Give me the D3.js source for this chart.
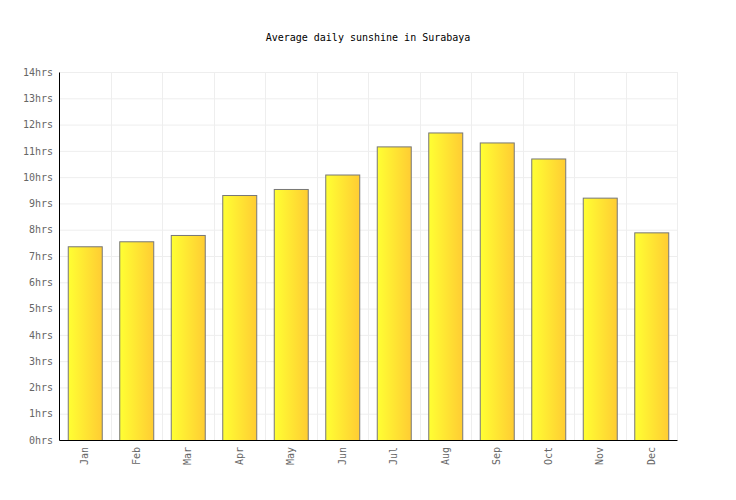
<!DOCTYPE html>
<html lang="en">
<head>
    <meta charset="UTF-8">
    <title>Average daily sunshine in Surabaya</title>
    <script src="https://d3js.org/d3.v7.min.js"></script>
    <style>
        body { margin: 0; background: #fff; }
        text { font-family: "DejaVu Sans Mono", monospace; font-size: 10px; }
    </style>
</head>
<body>
    <svg id="chart" width="736" height="500"></svg>

    <script>
        // Data
        const months = ["Jan", "Feb", "Mar", "Apr", "May", "Jun", "Jul", "Aug", "Sep", "Oct", "Nov", "Dec"];
        const sunshine = [7.37, 7.56, 7.8, 9.32, 9.55, 10.1, 11.17, 11.7, 11.32, 10.71, 9.22, 7.9];
        const yTicks = [0, 1, 2, 3, 4, 5, 6, 7, 8, 9, 10, 11, 12, 13, 14];

        const svg = d3.select("#chart");
        const margin = { top: 72, right: 59, bottom: 60, left: 59 };
        const width = 736 - margin.left - margin.right;
        const height = 500 - margin.top - margin.bottom;

        const g = svg.append("g")
            .attr("transform", `translate(${margin.left},${margin.top})`);

        const x = d3.scaleBand().domain(months).range([0, width]).paddingInner(0.34).paddingOuter(0.17);
        const y = d3.scaleLinear().domain([0, 14]).range([height, 0]);

        // gradient for the bars
        const grad = svg.append("defs").append("linearGradient")
            .attr("id", "barGrad")
            .attr("x1", "0%").attr("x2", "100%").attr("y1", "0%").attr("y2", "0%");
        grad.append("stop").attr("offset", "0%").attr("stop-color", "#ffff33");
        grad.append("stop").attr("offset", "100%").attr("stop-color", "#ffcc33");

        // grid
        const step = width / months.length;
        g.append("g").selectAll("line")
            .data(yTicks)
            .enter().append("line")
            .attr("x1", 0).attr("x2", width)
            .attr("y1", d => y(d) + 0.5).attr("y2", d => y(d) + 0.5)
            .attr("stroke", "#eeeeee");
        g.append("g").selectAll("line")
            .data(d3.range(months.length + 1))
            .enter().append("line")
            .attr("x1", i => Math.round(i * step) + 0.5).attr("x2", i => Math.round(i * step) + 0.5)
            .attr("y1", 0).attr("y2", height)
            .attr("stroke", "#eeeeee");

        // bars
        g.selectAll("rect.bar")
            .data(sunshine)
            .enter()
            .append("rect")
            .attr("class", "bar")
            .attr("x", (d, i) => x(months[i]) + 0.5)
            .attr("y", d => y(d) + 0.5)
            .attr("width", x.bandwidth())
            .attr("height", d => height - y(d))
            .attr("fill", "url(#barGrad)")
            .attr("stroke", "#777777")
            .attr("stroke-width", 1);

        // axes
        const yAxis = g.append("g")
            .call(d3.axisLeft(y).tickValues(yTicks).tickSize(0).tickPadding(6).tickFormat(d => d + "hrs"));
        yAxis.select(".domain").attr("stroke", "#000");
        yAxis.selectAll("text").attr("fill", "#666");

        const xAxis = g.append("g")
            .attr("transform", `translate(0,${height})`)
            .call(d3.axisBottom(x).tickSize(0).tickPadding(0));
        xAxis.select(".domain").attr("stroke", "#000");
        xAxis.selectAll("text")
            .attr("fill", "#666")
            .attr("transform", "rotate(-90)")
            .attr("text-anchor", "end")
            .attr("x", -7)
            .attr("y", 0)
            .attr("dy", "0.35em");

        // title
        svg.append("text")
            .attr("x", 368)
            .attr("y", 41)
            .attr("text-anchor", "middle")
            .attr("fill", "#000")
            .text("Average daily sunshine in Surabaya");
    </script>
</body>
</html>
